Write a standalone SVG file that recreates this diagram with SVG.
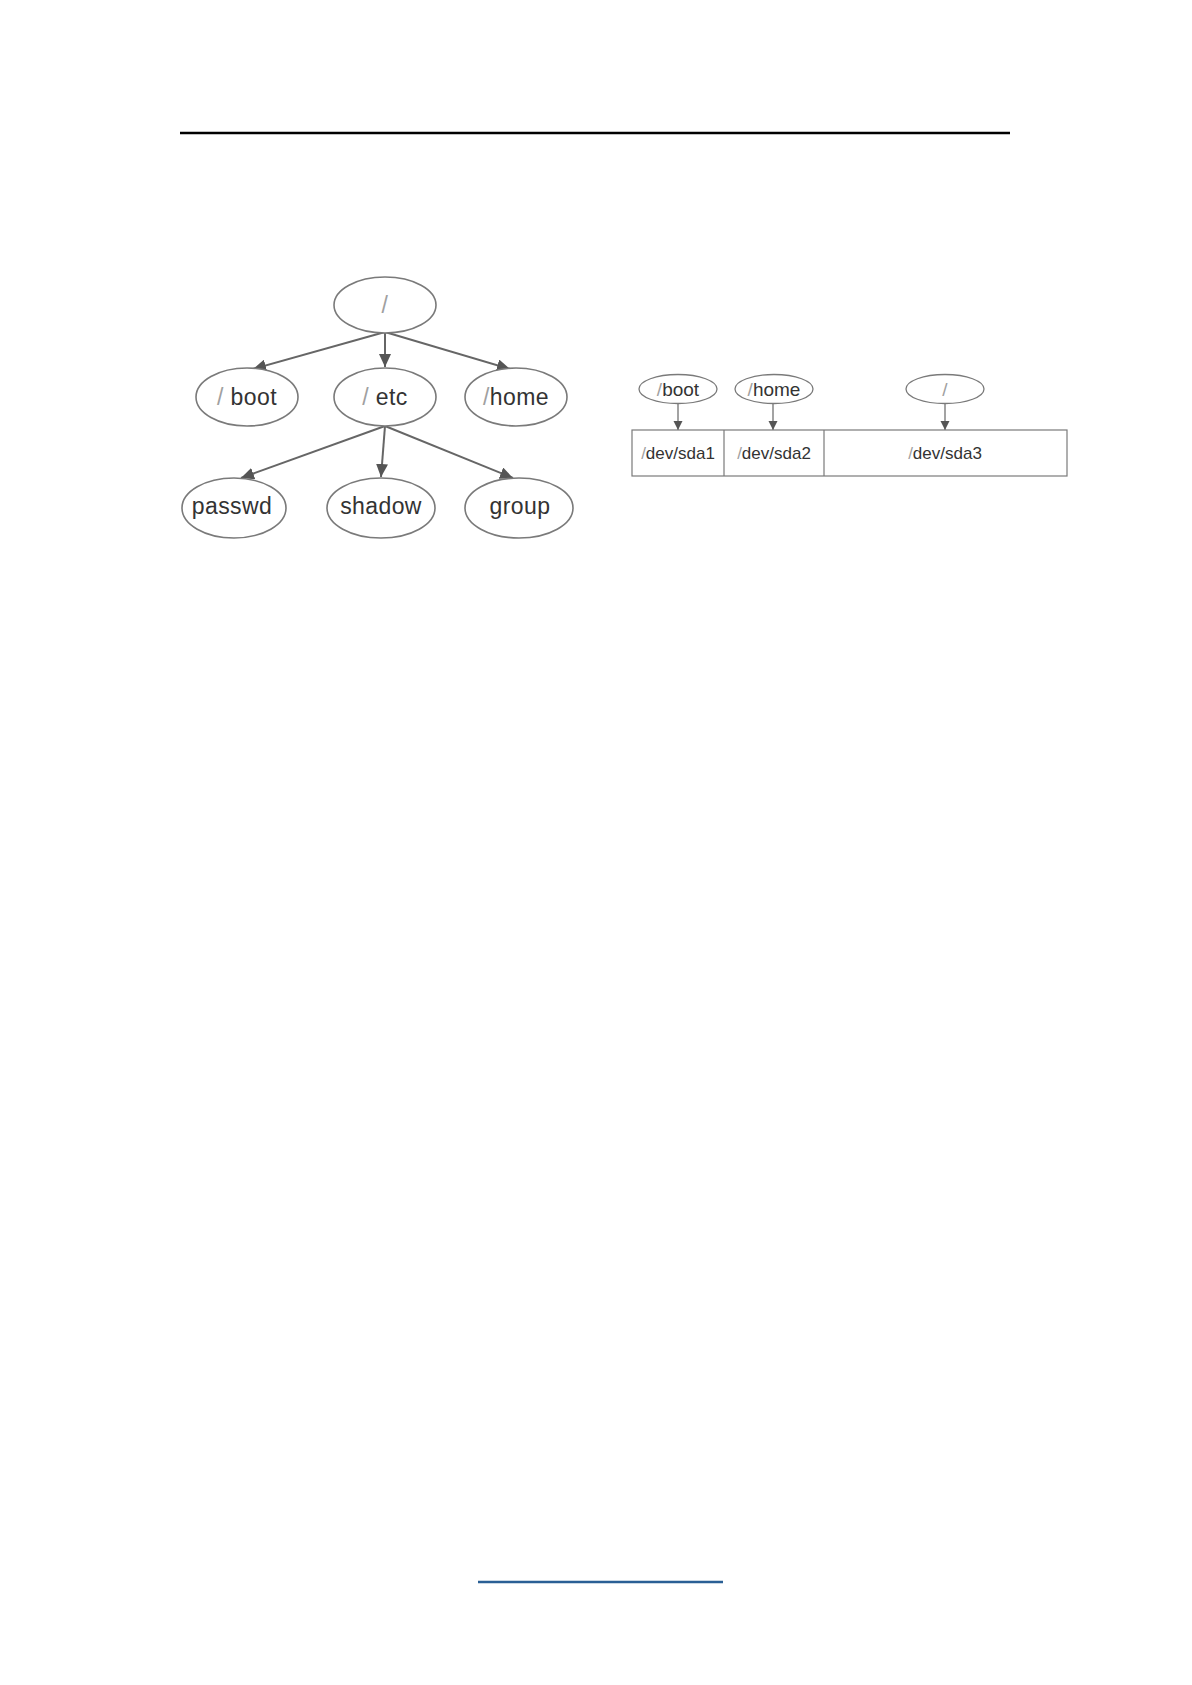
<svg xmlns="http://www.w3.org/2000/svg" width="1192" height="1685" viewBox="0 0 1192 1685">
<style>
.node{fill:#fff;stroke:#7a7a7a;stroke-width:1.6}
.small{fill:#fff;stroke:#7a7a7a;stroke-width:1.3}
.lbl{font-family:"Liberation Sans",Arial,sans-serif;font-size:23px;fill:#333;text-anchor:middle;letter-spacing:0.4px}
.slbl{font-family:"Liberation Sans",Arial,sans-serif;font-size:19px;fill:#333;text-anchor:middle}
.cell{font-family:"Liberation Sans",Arial,sans-serif;font-size:17px;fill:#333;text-anchor:middle}
.sl{fill:#a0a0a0}
.edge{stroke:#666;stroke-width:2;fill:none}
.sedge{stroke:#666;stroke-width:1.2;fill:none}
.box{fill:#fff;stroke:#7a7a7a;stroke-width:1.2}
</style>
<defs>
<marker id="ah" markerUnits="userSpaceOnUse" markerWidth="14" markerHeight="12" refX="13" refY="6" orient="auto">
<path d="M0,0 L13,6 L0,12 z" fill="#555"/>
</marker>
<marker id="sah" markerUnits="userSpaceOnUse" markerWidth="10" markerHeight="10" refX="9" refY="4.5" orient="auto">
<path d="M0,0 L9,4.5 L0,9 z" fill="#555"/>
</marker>
</defs>
<rect width="1192" height="1685" fill="#fff"/>
<line x1="180" y1="133" x2="1010" y2="133" stroke="#000" stroke-width="2.5"/>
<line x1="478" y1="1582" x2="723" y2="1582" stroke="#2a5f95" stroke-width="2.5"/>

<g id="connectors">
<line class="edge" x1="385" y1="332" x2="253" y2="369" marker-end="url(#ah)"/>
<line class="edge" x1="385" y1="332" x2="385" y2="367" marker-end="url(#ah)"/>
<line class="edge" x1="385" y1="332" x2="510" y2="369" marker-end="url(#ah)"/>
<line class="edge" x1="385" y1="426" x2="241" y2="478" marker-end="url(#ah)"/>
<line class="edge" x1="385" y1="426" x2="381" y2="477" marker-end="url(#ah)"/>
<line class="edge" x1="385" y1="426" x2="513" y2="478" marker-end="url(#ah)"/>
<line class="sedge" x1="678" y1="403" x2="678" y2="430" marker-end="url(#sah)"/>
<line class="sedge" x1="773" y1="403" x2="773" y2="430" marker-end="url(#sah)"/>
<line class="sedge" x1="945" y1="403" x2="945" y2="430" marker-end="url(#sah)"/>
</g>

<g id="n-root"><ellipse class="node" cx="385" cy="305" rx="51" ry="28"/><text class="lbl sl" x="385" y="313">/</text></g>
<g id="n-boot"><ellipse class="node" cx="247" cy="397" rx="51" ry="29"/><text class="lbl" x="247" y="405"><tspan class="sl">/ </tspan>boot</text></g>
<g id="n-etc"><ellipse class="node" cx="385" cy="397" rx="51" ry="29"/><text class="lbl" x="385" y="405"><tspan class="sl">/ </tspan>etc</text></g>
<g id="n-home"><ellipse class="node" cx="516" cy="397" rx="51" ry="29"/><text class="lbl" x="516" y="405"><tspan class="sl">/</tspan>home</text></g>
<g id="n-passwd"><ellipse class="node" cx="234" cy="508" rx="52" ry="30"/><text class="lbl" x="232" y="514">passwd</text></g>
<g id="n-shadow"><ellipse class="node" cx="381" cy="508" rx="54" ry="30"/><text class="lbl" x="381" y="514">shadow</text></g>
<g id="n-group"><ellipse class="node" cx="519" cy="508" rx="54" ry="30"/><text class="lbl" x="520" y="514">group</text></g>

<g id="m-boot"><ellipse class="small" cx="678" cy="389" rx="39" ry="14.5"/><text class="slbl" x="678" y="396"><tspan class="sl">/</tspan>boot</text></g>
<g id="m-home"><ellipse class="small" cx="774" cy="389" rx="39" ry="14.5"/><text class="slbl" x="774" y="396"><tspan class="sl">/</tspan>home</text></g>
<g id="m-root"><ellipse class="small" cx="945" cy="389" rx="39" ry="14.5"/><text class="slbl sl" x="945" y="396">/</text></g>

<g id="disk">
<rect class="box" x="632" y="430" width="435" height="46"/>
<line class="box" x1="724" y1="430" x2="724" y2="476"/>
<line class="box" x1="824" y1="430" x2="824" y2="476"/>
<text class="cell" x="678" y="459"><tspan class="sl">/</tspan>dev/sda1</text>
<text class="cell" x="774" y="459"><tspan class="sl">/</tspan>dev/sda2</text>
<text class="cell" x="945" y="459"><tspan class="sl">/</tspan>dev/sda3</text>
</g>
</svg>
